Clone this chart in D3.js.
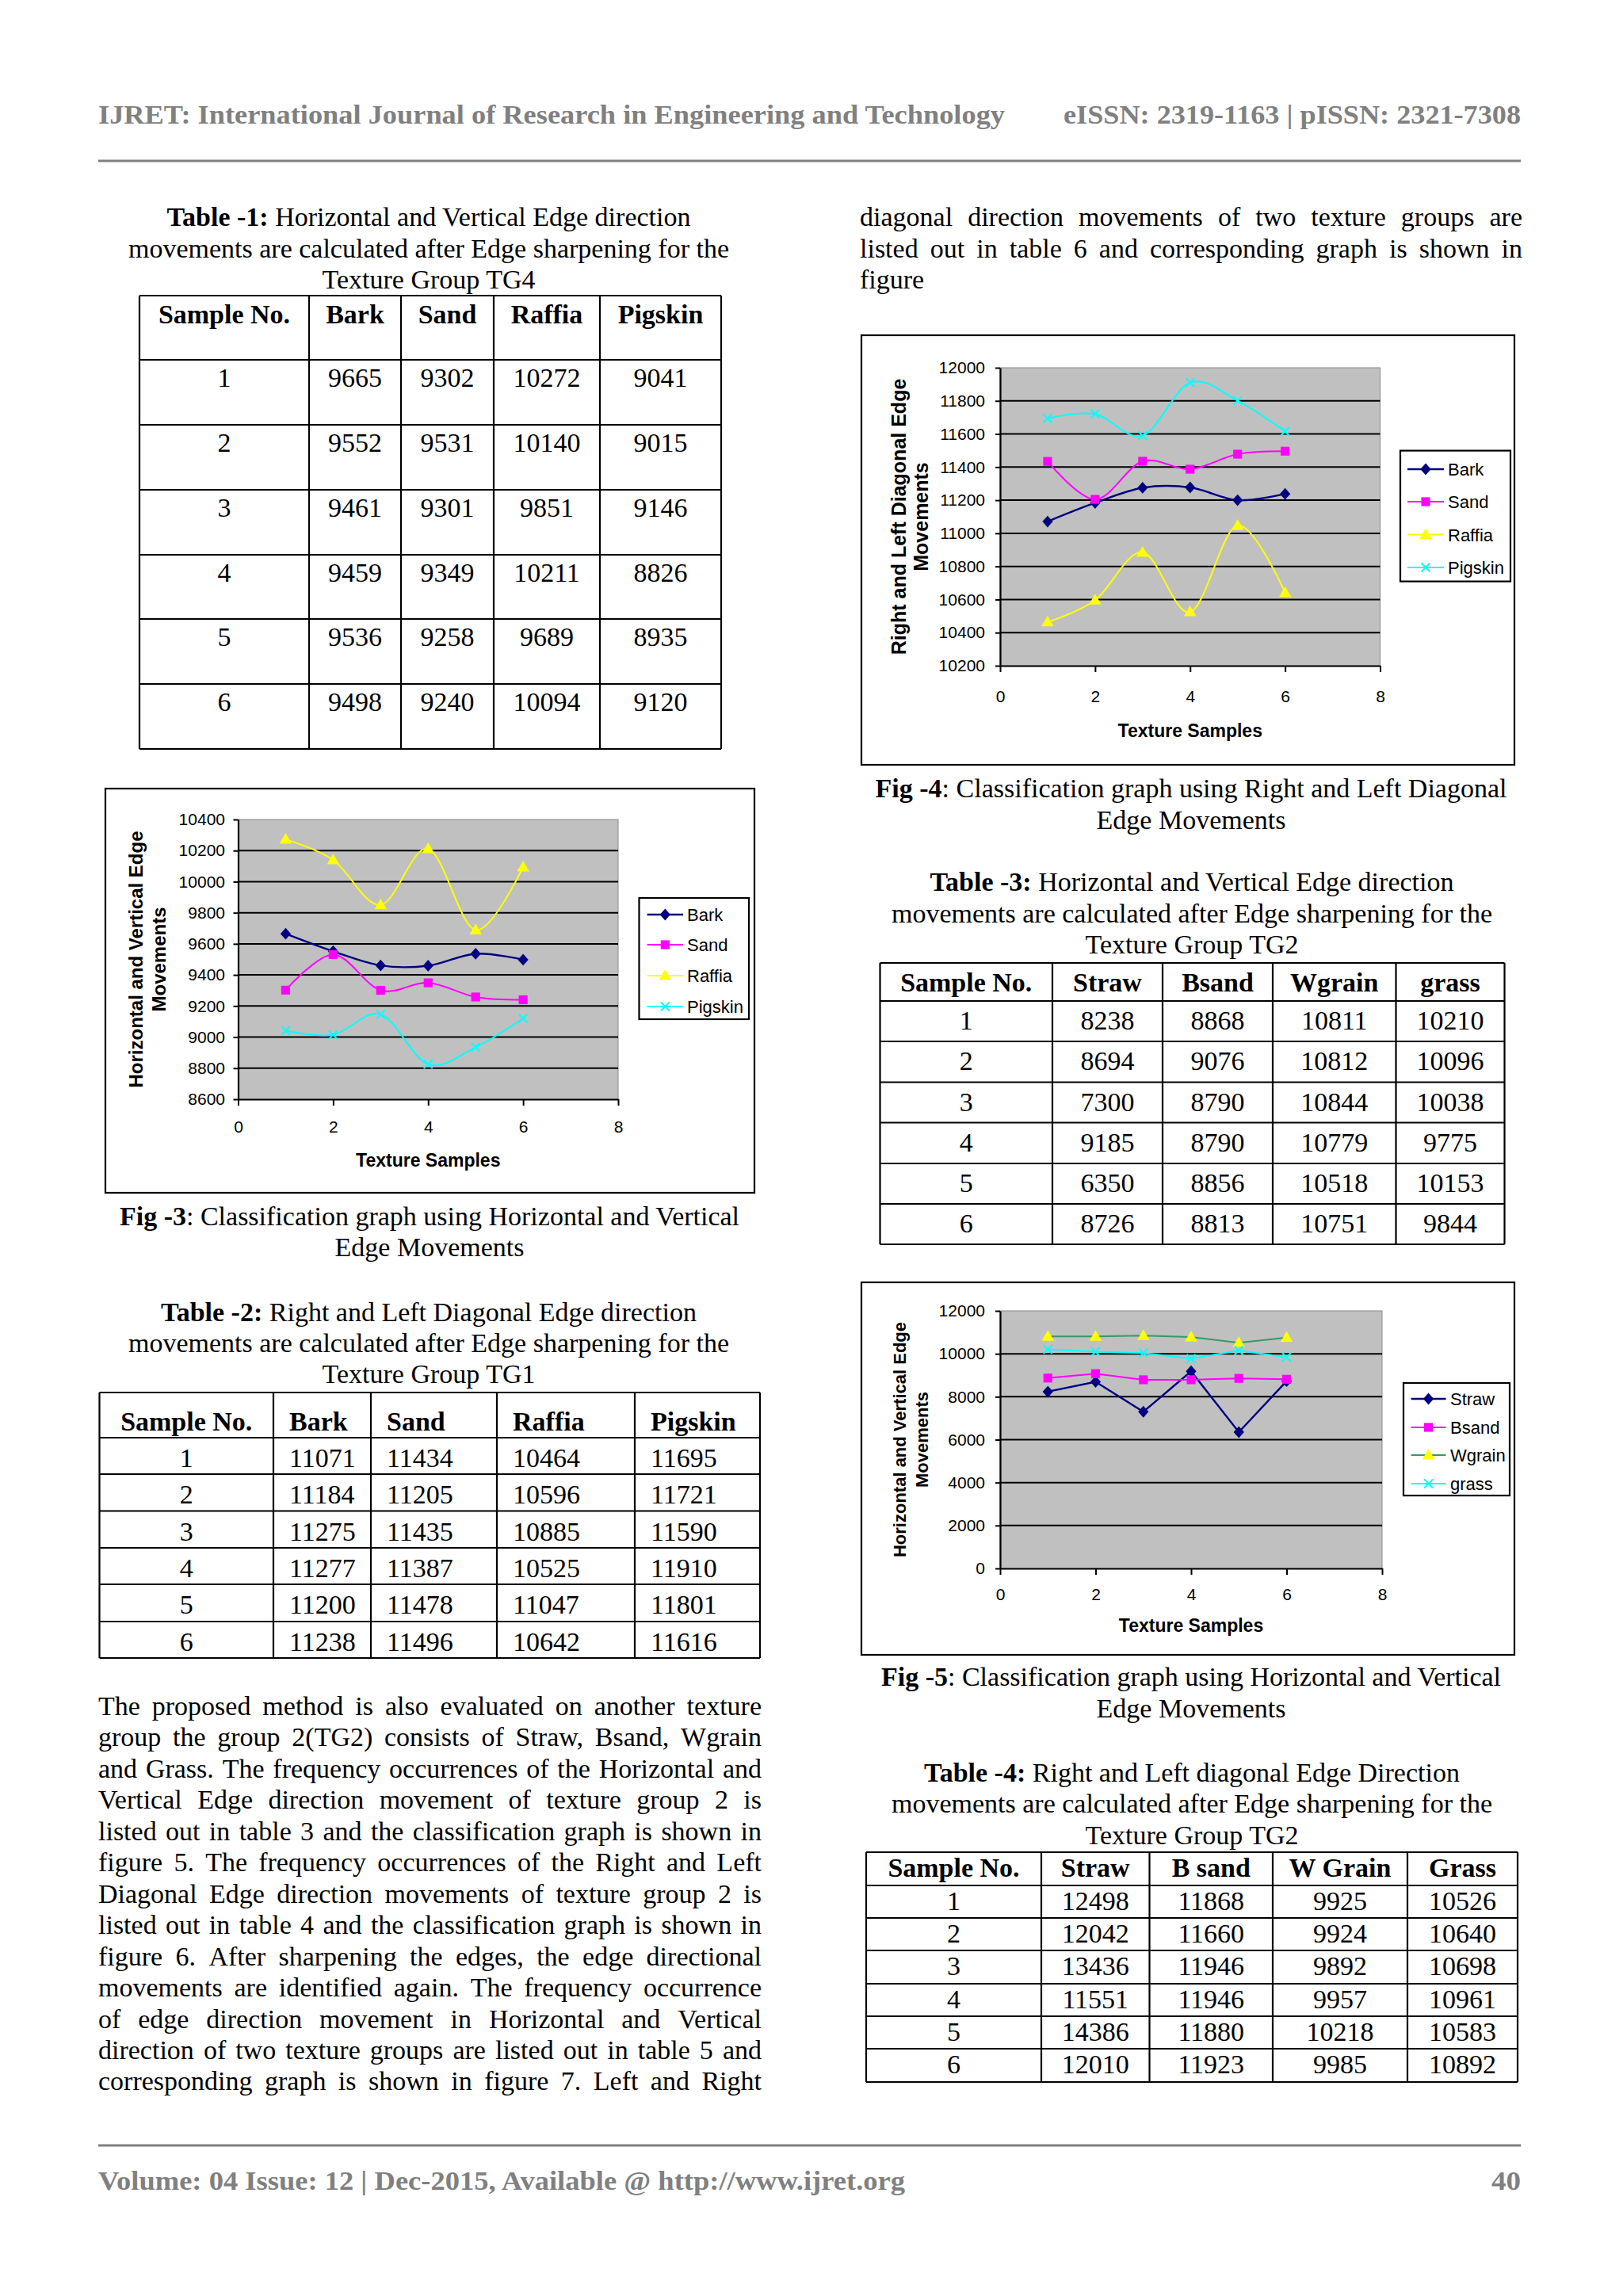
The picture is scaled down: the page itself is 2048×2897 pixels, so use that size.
<!DOCTYPE html>
<html><head><meta charset="utf-8">
<script src="https://cdn.jsdelivr.net/npm/d3@7"></script>
<style>html,body{margin:0;padding:0;background:#fff}svg{display:block}</style>
</head><body>
<svg id="page" width="2048" height="2897"></svg>
<script>
// ---------------- DATA ----------------
const samples = [1, 2, 3, 4, 5, 6];
const xTickValues = [0, 2, 4, 6, 8];

// Table 1 / Fig 3 : TG4 horizontal & vertical
const tg4Names = ["Bark", "Sand", "Raffia", "Pigskin"];
const tg4HVBark    = [9665, 9552, 9461, 9459, 9536, 9498];
const tg4HVSand    = [9302, 9531, 9301, 9349, 9258, 9240];
const tg4HVRaffia  = [10272, 10140, 9851, 10211, 9689, 10094];
const tg4HVPigskin = [9041, 9015, 9146, 8826, 8935, 9120];
const fig3YTicks = [8600, 8800, 9000, 9200, 9400, 9600, 9800, 10000, 10200, 10400];

// Table 2 / Fig 4 : TG1 diagonal
const tg1Names = ["Bark", "Sand", "Raffia", "Pigskin"];
const tg1DiagBark    = [11071, 11184, 11275, 11277, 11200, 11238];
const tg1DiagSand    = [11434, 11205, 11435, 11387, 11478, 11496];
const tg1DiagRaffia  = [10464, 10596, 10885, 10525, 11047, 10642];
const tg1DiagPigskin = [11695, 11721, 11590, 11910, 11801, 11616];
const fig4YTicks = [10200, 10400, 10600, 10800, 11000, 11200, 11400, 11600, 11800, 12000];

// Table 3 / Fig 5 : TG2 horizontal & vertical
const tg2Names = ["Straw", "Bsand", "Wgrain", "grass"];
const tg2HVStraw  = [8238, 8694, 7300, 9185, 6350, 8726];
const tg2HVBsand  = [8868, 9076, 8790, 8790, 8856, 8813];
const tg2HVWgrain = [10811, 10812, 10844, 10779, 10518, 10751];
const tg2HVGrass  = [10210, 10096, 10038, 9775, 10153, 9844];
const fig5YTicks = [0, 2000, 4000, 6000, 8000, 10000, 12000];

// Table 4 : TG2 diagonal
const tg2DiagNames = ["Straw", "B sand", "W Grain", "Grass"];
const tg2DiagStraw  = [12498, 12042, 13436, 11551, 14386, 12010];
const tg2DiagBsand  = [11868, 11660, 11946, 11946, 11880, 11923];
const tg2DiagWgrain = [9925, 9924, 9892, 9957, 10218, 9985];
const tg2DiagGrass  = [10526, 10640, 10698, 10961, 10583, 10892];

// ---------------- PAGE ----------------
const svg = d3.select("#page");
const SERIF = "'Liberation Serif','Times New Roman',serif";
const SANS = "'Liberation Sans',Arial,sans-serif";
const FS = 34;
svg.append("rect").attr("width", 2048).attr("height", 2897).attr("fill", "#fff");

// header / footer
function grayText(x, y, str, len, anchor) {
  svg.append("text").attr("x", x).attr("y", y).attr("text-anchor", anchor)
    .attr("font-family", SERIF).attr("font-weight", "bold").attr("font-size", 34)
    .attr("fill", "#808080").attr("textLength", len).attr("lengthAdjust", "spacingAndGlyphs").text(str);
}
grayText(124, 156, "IJRET: International Journal of Research in Engineering and Technology", 1144, "start");
grayText(1919, 156, "eISSN: 2319-1163 | pISSN: 2321-7308", 577, "end");
svg.append("line").attr("x1", 124).attr("x2", 1919).attr("y1", 203).attr("y2", 203).attr("stroke", "#808080").attr("stroke-width", 3);
svg.append("line").attr("x1", 124).attr("x2", 1919).attr("y1", 2707).attr("y2", 2707).attr("stroke", "#808080").attr("stroke-width", 3);
grayText(124, 2763, "Volume: 04 Issue: 12 | Dec-2015, Available @ http://www.ijret.org", 1018, "start");
grayText(1919, 2763, "40", 37, "end");

// text helpers
function measure(str, weight) {
  const t = svg.append("text").attr("font-family", SERIF).attr("font-size", FS).attr("font-weight", weight || "normal").text(str);
  const w = t.node().getComputedTextLength();
  t.remove();
  return w;
}
function textLine(str, x0, x1, y, justify) {
  const words = str.split(/\s+/);
  const t = svg.append("text").attr("y", y).attr("font-family", SERIF).attr("font-size", FS).attr("fill", "#000");
  if (!justify || words.length < 2) { t.attr("x", x0).text(str); return; }
  const widths = words.map(w => measure(w));
  const gap = (x1 - x0 - d3.sum(widths)) / (words.length - 1);
  let cx = x0;
  words.forEach((w, i) => {
    t.append("tspan").attr("x", cx).text(i < words.length - 1 ? w + " " : w);
    cx += widths[i] + gap;
  });
}
function caption(cx, y, boldPart, rest) {
  const t = svg.append("text").attr("x", cx).attr("y", y).attr("text-anchor", "middle")
    .attr("font-family", SERIF).attr("font-size", FS).attr("fill", "#000");
  if (boldPart) t.append("tspan").attr("font-weight", "bold").text(boldPart);
  t.append("tspan").text(rest);
}

// ---------------- TABLES ----------------
function drawTable(t) {
  const g = svg.append("g");
  const x0 = t.cols[0], x1 = t.cols[t.cols.length - 1];
  const y0 = t.rows[0], y1 = t.rows[t.rows.length - 1];
  const ln = (a, b, c, d) => g.append("line").attr("x1", a).attr("y1", b).attr("x2", c).attr("y2", d)
    .attr("stroke", "#000").attr("stroke-width", 2.2);
  t.cols.forEach(c => ln(c, y0, c, y1));
  t.rows.forEach(r => ln(x0, r, x1, r));
  const all = [t.header].concat(t.body);
  all.forEach((row, ri) => row.forEach((cell, ci) => {
    const l = t.cols[ci], r = t.cols[ci + 1];
    const mid = t.align[ci] === "middle";
    g.append("text").attr("x", mid ? (l + r) / 2 : l + t.pad)
      .attr("y", t.rows[ri] + (ri === 0 ? t.headBase : t.dataBase))
      .attr("text-anchor", mid ? "middle" : "start")
      .attr("font-family", SERIF).attr("font-size", FS)
      .attr("font-weight", ri === 0 ? "bold" : "normal").attr("fill", "#000").text(cell);
  }));
}
const rowsOf = (arrs) => samples.map((s, i) => [String(s)].concat(arrs.map(a => String(a[i]))));

// Table 1
caption(541, 285, "Table -1:", " Horizontal and Vertical Edge direction");
caption(541, 325, null, "movements are calculated after Edge sharpening for the");
caption(541, 364, null, "Texture Group TG4");
drawTable({
  cols: [176, 390, 506, 623, 757, 910],
  rows: [373, 454, 536, 618, 700, 781, 863, 945],
  header: ["Sample No."].concat(tg4Names),
  body: rowsOf([tg4HVBark, tg4HVSand, tg4HVRaffia, tg4HVPigskin]),
  align: ["middle", "middle", "middle", "middle", "middle"], pad: 0, headBase: 35, dataBase: 34
});

// Table 2
caption(541, 1667, "Table -2:", " Right and Left Diagonal Edge direction");
caption(541, 1706, null, "movements are calculated after Edge sharpening for the");
caption(541, 1745, null, "Texture Group TG1");
drawTable({
  cols: [125.5, 345, 468, 627, 801, 959],
  rows: [1757, 1814, 1860, 1906.5, 1953, 1999, 2046, 2092],
  header: ["Sample No."].concat(tg1Names),
  body: rowsOf([tg1DiagBark, tg1DiagSand, tg1DiagRaffia, tg1DiagPigskin]),
  align: ["middle", "start", "start", "start", "start"], pad: 20, headBase: 48, dataBase: 37
});

// Table 3
caption(1504, 1124, "Table -3:", " Horizontal and Vertical Edge direction");
caption(1504, 1164, null, "movements are calculated after Edge sharpening for the");
caption(1504, 1203, null, "Texture Group TG2");
drawTable({
  cols: [1110.5, 1328, 1467, 1606, 1761.5, 1898.5],
  rows: [1215, 1263, 1314, 1365.5, 1416.5, 1468, 1519, 1570],
  header: ["Sample No."].concat(tg2Names),
  body: rowsOf([tg2HVStraw, tg2HVBsand, tg2HVWgrain, tg2HVGrass]),
  align: ["middle", "middle", "middle", "middle", "middle"], pad: 0, headBase: 36, dataBase: 36
});

// Table 4
caption(1504, 2248, "Table -4:", " Right and Left diagonal Edge Direction");
caption(1504, 2287, null, "movements are calculated after Edge sharpening for the");
caption(1504, 2327, null, "Texture Group TG2");
drawTable({
  cols: [1093, 1314, 1450.5, 1606, 1776, 1915],
  rows: [2337, 2379, 2420, 2461, 2503, 2544, 2585, 2627],
  header: ["Sample No."].concat(tg2DiagNames),
  body: rowsOf([tg2DiagStraw, tg2DiagBsand, tg2DiagWgrain, tg2DiagGrass]),
  align: ["middle", "middle", "middle", "middle", "middle"], pad: 0, headBase: 31, dataBase: 31
});

// ---------------- PARAGRAPHS ----------------
const leftPara = [
  "The proposed method is also evaluated on another texture",
  "group the group 2(TG2) consists of Straw, Bsand, Wgrain",
  "and Grass. The frequency occurrences of the Horizontal and",
  "Vertical Edge direction movement of texture group 2 is",
  "listed out in table 3 and the classification graph is shown in",
  "figure 5. The frequency occurrences of the Right and Left",
  "Diagonal Edge direction movements of texture group 2 is",
  "listed out in table 4 and the classification graph is shown in",
  "figure 6. After sharpening the edges, the edge directional",
  "movements are identified again. The frequency occurrence",
  "of edge direction movement in Horizontal and Vertical",
  "direction of two texture groups are listed out in table 5 and",
  "corresponding graph is shown in figure 7. Left and Right"
];
leftPara.forEach((s, i) => textLine(s, 124, 961, 2164 + i * 39.45, true));
const rightPara = [
  "diagonal direction movements of two texture groups are",
  "listed out in table 6 and corresponding graph is shown in",
  "figure"
];
rightPara.forEach((s, i) => textLine(s, 1085, 1921, [285, 325, 364][i], i < 2));

// ---------------- CHARTS ----------------
const symTimes = d3.symbolTimes || d3.symbolX;
function drawMarker(g, type, cx, cy, color) {
  if (type === "diamond") {
    g.append("path").attr("d", d3.symbol(d3.symbolSquare, 88)())
      .attr("transform", `translate(${cx},${cy}) scale(1,1.12) rotate(45)`).attr("fill", color);
  } else if (type === "square") {
    g.append("path").attr("d", d3.symbol(d3.symbolSquare, 125)())
      .attr("transform", `translate(${cx},${cy})`).attr("fill", color);
  } else if (type === "triangle") {
    g.append("path").attr("d", d3.symbol(d3.symbolTriangle, 105)())
      .attr("transform", `translate(${cx},${cy + 1})`).attr("fill", color);
  } else {
    g.append("path").attr("d", d3.symbol(symTimes, 80)())
      .attr("transform", `translate(${cx},${cy})`).attr("fill", "none").attr("stroke", color).attr("stroke-width", 2);
  }
}

function drawChart(c) {
  const g = svg.append("g");
  const [bx0, by0, bx1, by1] = c.box;
  const [px0, py0, px1, py1] = c.plot;
  g.append("rect").attr("x", bx0).attr("y", by0).attr("width", bx1 - bx0).attr("height", by1 - by0)
    .attr("fill", "#fff").attr("stroke", "#000").attr("stroke-width", 2.2);
  const x = d3.scaleLinear().domain([0, 8]).range([px0, px1]);
  const y = d3.scaleLinear().domain([c.yTicks[0], c.yTicks[c.yTicks.length - 1]]).range([py1, py0]);
  g.append("rect").attr("x", px0).attr("y", py0).attr("width", px1 - px0).attr("height", py1 - py0)
    .attr("fill", "#c0c0c0").attr("stroke", "#8a8a8a").attr("stroke-width", 1);
  c.yTicks.slice(1, -1).forEach(t => g.append("line").attr("x1", px0).attr("x2", px1)
    .attr("y1", y(t)).attr("y2", y(t)).attr("stroke", "#000").attr("stroke-width", 2));

  const ya = g.append("g").attr("transform", `translate(${px0},0)`)
    .call(d3.axisLeft(y).tickValues(c.yTicks).tickFormat(d => String(d)).tickSize(6).tickSizeOuter(0).tickPadding(c.yPad));
  const xa = g.append("g").attr("transform", `translate(0,${py1})`)
    .call(d3.axisBottom(x).tickValues(xTickValues).tickFormat(d => String(d)).tickSize(8).tickSizeOuter(0));
  [ya, xa].forEach(a => {
    a.select(".domain").attr("stroke", "#000").attr("stroke-width", 2.2);
    a.selectAll(".tick line").attr("stroke", "#000").attr("stroke-width", 2);
    a.selectAll("text").attr("font-family", SANS).attr("font-size", 21).attr("fill", "#000");
  });
  xa.selectAll("text").attr("dy", null).attr("y", c.xLabelBase - py1);

  // axis titles
  g.append("text").attr("x", (px0 + px1) / 2).attr("y", c.xTitleBase).attr("text-anchor", "middle")
    .attr("font-family", SANS).attr("font-weight", "bold").attr("font-size", 23).attr("fill", "#000").text("Texture Samples");
  c.yTitle.forEach((s, i) => g.append("text")
    .attr("transform", `translate(${c.yTitleBase[i]},${(py0 + py1) / 2}) rotate(-90)`)
    .attr("text-anchor", "middle").attr("font-family", SANS).attr("font-weight", "bold")
    .attr("font-size", c.yTitleSize).attr("fill", "#000").text(s));

  // series
  const line = d3.line().x(d => x(d[0])).y(d => y(d[1]))
    .curve(c.smooth ? d3.curveCardinal.tension(0) : d3.curveLinear);
  c.series.forEach(s => {
    const pts = samples.map((k, i) => [k, s.values[i]]);
    g.append("path").attr("d", line(pts)).attr("fill", "none").attr("stroke", s.line).attr("stroke-width", s.width || 2);
    pts.forEach(p => drawMarker(g, s.marker, x(p[0]), y(p[1]), s.fill));
  });

  // legend
  const [lx0, ly0, lx1, ly1] = c.legendBox;
  g.append("rect").attr("x", lx0).attr("y", ly0).attr("width", lx1 - lx0).attr("height", ly1 - ly0)
    .attr("fill", "#fff").attr("stroke", "#000").attr("stroke-width", 2.2);
  c.series.forEach((s, i) => {
    const yy = c.legendY[i];
    g.append("line").attr("x1", c.legendLine[0]).attr("x2", c.legendLine[1]).attr("y1", yy).attr("y2", yy)
      .attr("stroke", s.line).attr("stroke-width", s.width || 2);
    drawMarker(g, s.marker, (c.legendLine[0] + c.legendLine[1]) / 2, yy, s.fill);
    g.append("text").attr("x", c.legendText).attr("y", yy + 8).attr("font-family", SANS)
      .attr("font-size", 22).attr("fill", "#000").text(s.name);
  });
}

const NAVY = "#000080", MAG = "#ff00ff", YEL = "#ffff00", CYAN = "#00ffff", GREEN = "#339966";

// Fig 3
drawChart({
  box: [133, 995, 952, 1505], plot: [300.5, 1034, 780, 1387], yTicks: fig3YTicks, yPad: 10.5,
  xLabelBase: 1429, xTitleBase: 1472, smooth: true,
  yTitle: ["Horizontal and Vertical Edge", "Movements"], yTitleBase: [180, 208.5], yTitleSize: 24,
  legendBox: [806.5, 1133, 945, 1286], legendY: [1154, 1192, 1231, 1270], legendLine: [816.6, 862], legendText: 867,
  series: [
    { name: tg4Names[0], values: tg4HVBark, line: NAVY, fill: NAVY, marker: "diamond", width: 2.4 },
    { name: tg4Names[1], values: tg4HVSand, line: MAG, fill: MAG, marker: "square" },
    { name: tg4Names[2], values: tg4HVRaffia, line: YEL, fill: YEL, marker: "triangle" },
    { name: tg4Names[3], values: tg4HVPigskin, line: CYAN, fill: CYAN, marker: "x" }
  ]
});
caption(542, 1546, "Fig -3", ": Classification graph using Horizontal and Vertical");
caption(542, 1585, null, "Edge Movements");

// Fig 4
drawChart({
  box: [1087, 423, 1911, 965], plot: [1262, 464, 1741.5, 840], yTicks: fig4YTicks, yPad: 13,
  xLabelBase: 886, xTitleBase: 930, smooth: true,
  yTitle: ["Right and Left Diagonal Edge", "Movements"], yTitleBase: [1143, 1171], yTitleSize: 25,
  legendBox: [1767, 568.6, 1906, 733.6], legendY: [592, 633, 674.6, 716], legendLine: [1776, 1822], legendText: 1827,
  series: [
    { name: tg1Names[0], values: tg1DiagBark, line: NAVY, fill: NAVY, marker: "diamond", width: 2.4 },
    { name: tg1Names[1], values: tg1DiagSand, line: MAG, fill: MAG, marker: "square" },
    { name: tg1Names[2], values: tg1DiagRaffia, line: YEL, fill: YEL, marker: "triangle" },
    { name: tg1Names[3], values: tg1DiagPigskin, line: CYAN, fill: CYAN, marker: "x" }
  ]
});
caption(1503, 1006, "Fig -4", ": Classification graph using Right and Left Diagonal");
caption(1503, 1046, null, "Edge Movements");

// Fig 5
drawChart({
  box: [1087, 1618, 1911, 2088], plot: [1262, 1654, 1744, 1979], yTicks: fig5YTicks, yPad: 13,
  xLabelBase: 2019, xTitleBase: 2059, smooth: false,
  yTitle: ["Horizontal and Vertical Edge", "Movements"], yTitleBase: [1143, 1171], yTitleSize: 22,
  legendBox: [1771, 1745, 1905, 1887], legendY: [1765, 1801, 1836, 1872], legendLine: [1780.6, 1824.5], legendText: 1830,
  series: [
    { name: tg2Names[0], values: tg2HVStraw, line: NAVY, fill: NAVY, marker: "diamond", width: 2.4 },
    { name: tg2Names[1], values: tg2HVBsand, line: MAG, fill: MAG, marker: "square" },
    { name: tg2Names[2], values: tg2HVWgrain, line: GREEN, fill: YEL, marker: "triangle" },
    { name: tg2Names[3], values: tg2HVGrass, line: CYAN, fill: CYAN, marker: "x" }
  ]
});
caption(1503, 2127, "Fig -5", ": Classification graph using Horizontal and Vertical");
caption(1503, 2167, null, "Edge Movements");
</script>
</body></html>
